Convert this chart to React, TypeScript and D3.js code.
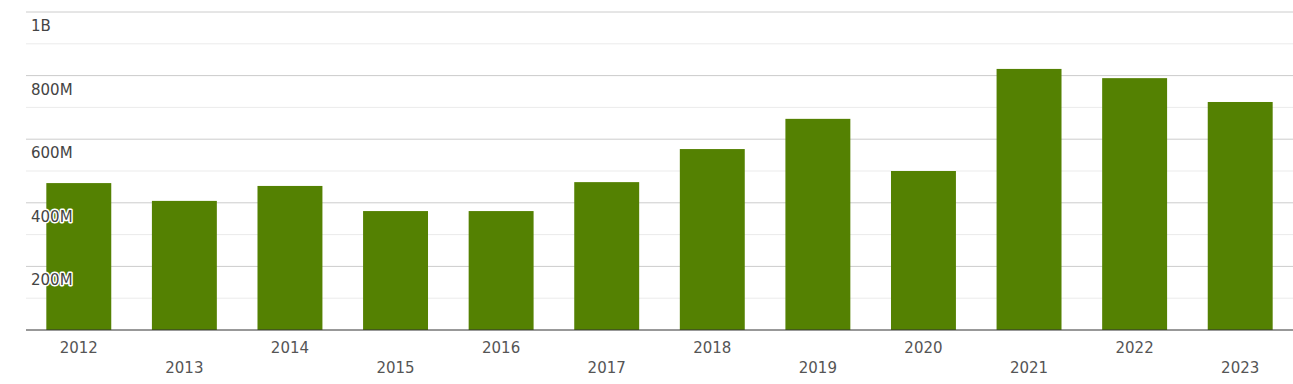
import React from "react";
import * as d3 from "d3";

const years = ["2012","2013","2014","2015","2016","2017","2018","2019","2020","2021","2022","2023"];
const values = [462e6, 406e6, 453e6, 374e6, 374e6, 465e6, 569e6, 664e6, 500e6, 821e6, 792e6, 717e6];
const majorTicks = [0, 200e6, 400e6, 600e6, 800e6, 1e9];
const tickLabels = ["", "200M", "400M", "600M", "800M", "1B"];
const minorTicks = [100e6, 300e6, 500e6, 700e6, 900e6];

const W = 1293, H = 384;
const left = 26, right = 1293, top = 12, bottom = 330;

export default function App() {
  const x = d3.scaleBand().domain(years).range([left, right]).paddingInner(0.385).paddingOuter(0.1925);
  const y = d3.scaleLinear().domain([0, 1e9]).range([bottom, top]);
  const font = "'DejaVu Sans', sans-serif";
  return (
    <svg width={W} height={H} style={{ position: "absolute", left: 0, top: 0 }}>
      {minorTicks.map((t) => (
        <line key={"m" + t} x1={left} x2={right} y1={y(t)} y2={y(t)} stroke="#ebebeb" strokeWidth={1} />
      ))}
      {majorTicks.slice(1).map((t) => (
        <line key={"g" + t} x1={left} x2={right} y1={y(t)} y2={y(t)} stroke="#cccccc" strokeWidth={1} />
      ))}
      {years.map((yr, i) => (
        <rect key={yr} x={x(yr)} y={y(values[i])} width={x.bandwidth()} height={y(0) - y(values[i])} fill="#548102" />
      ))}
      <line x1={left} x2={right} y1={bottom} y2={bottom} stroke="#333" strokeWidth={1} />
      {majorTicks.map((t, i) =>
        tickLabels[i] ? (
          <text key={"l" + t} x={31} y={y(t) + 19} fontFamily={font} fontSize={15} fill="#444"
            stroke="#fff" strokeWidth={3} paintOrder="stroke" strokeLinejoin="round">
            {tickLabels[i]}
          </text>
        ) : null
      )}
      {years.map((yr, i) => (
        <text key={"x" + yr} x={(x(yr) as number) + x.bandwidth() / 2} y={i % 2 === 0 ? 353 : 373}
          textAnchor="middle" fontFamily={font} fontSize={15} fill="#555">
          {yr}
        </text>
      ))}
    </svg>
  );
}
